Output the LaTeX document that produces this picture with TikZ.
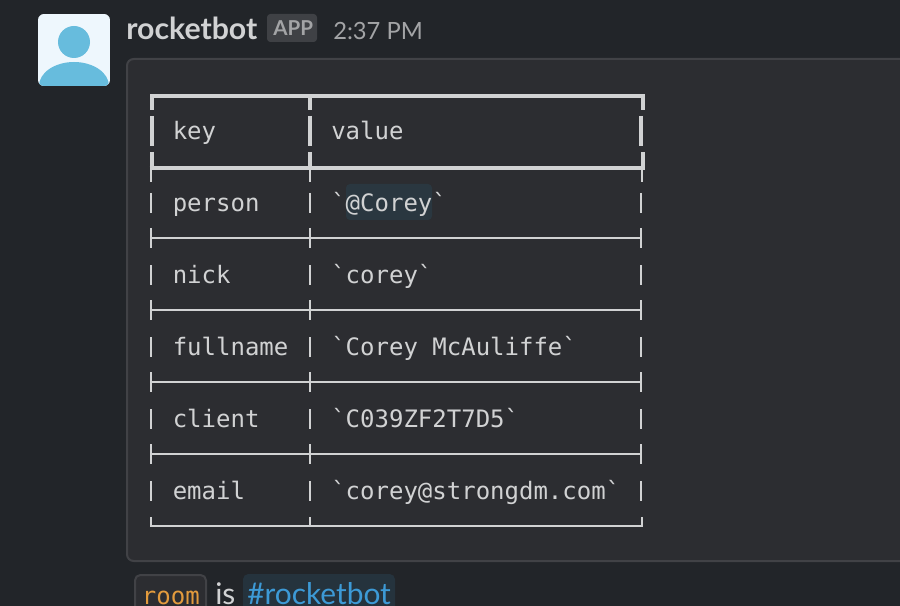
\documentclass[tikz,border=0pt]{standalone}
\usepackage{fontspec}
\setmainfont{Lato}
\newfontfamily\codefont{DejaVu Sans Mono}
\definecolor{bgc}{HTML}{222529}
\definecolor{cardc}{HTML}{2C2D31}
\definecolor{edgec}{HTML}{414246}
\definecolor{textc}{HTML}{D1D2D3}
\definecolor{dimc}{HTML}{A3A4A6}
\definecolor{badgec}{HTML}{3F4145}
\definecolor{avbg}{HTML}{EEF7FD}
\definecolor{avfg}{HTML}{67BCDD}
\definecolor{mentionc}{HTML}{2A3740}
\definecolor{linkbg}{HTML}{25333D}
\definecolor{linkc}{HTML}{3D9AD6}
\definecolor{orangec}{HTML}{E39B3D}
\tikzset{
  thick rule/.style={draw=textc,line width=3pt,line cap=butt},
  thin rule/.style={draw=textc,line width=1.6pt,line cap=butt},
  cell/.style={anchor=base west,inner sep=0pt,text=textc,font=\codefont\fontsize{18pt}{18pt}\selectfont},
  label/.style={anchor=base west,inner sep=0pt,font=\fontsize{22.4pt}{22.4pt}\selectfont}
}
\begin{document}
\begin{tikzpicture}[x=0.75pt,y=-0.75pt]
\useasboundingbox (0,0) rectangle (900,606);
\clip (0,0) rectangle (900,606);
\fill[bgc] (0,0) rectangle (900,606);
% avatar
\begin{scope}
  \path[clip,rounded corners=4.5pt] (38,14) rectangle (110,86);
  \fill[avbg] (38,14) rectangle (110,86);
  \fill[avfg] (74,42) circle[radius=16];
  \fill[avfg] (74,86) ellipse[x radius=35,y radius=24];
\end{scope}
% header
\node[anchor=base west,inner sep=0pt,text=textc,font=\bfseries\fontsize{22.7pt}{22.7pt}\selectfont] (name) at (126,39.5) {rocketbot};
\fill[badgec,rounded corners=2.5pt] (267,14) rectangle (317,42);
\node[anchor=base west,inner sep=0pt,text=dimc,font=\bfseries\fontsize{15.4pt}{15.4pt}\selectfont] (app) at (273,35.5) {APP};
\node[anchor=base west,inner sep=0pt,text=dimc,font=\fontsize{17.8pt}{17.8pt}\selectfont] (time) at (333,40) {2:37 PM};
% card
\draw[edgec,fill=cardc,line width=1.5pt,rounded corners=5pt] (127,59) rectangle (930,561);
% mention
\fill[mentionc,rounded corners=3pt] (346,184) rectangle (432,220);
% table header
\draw[thick rule] (151.5,110) -- (151.5,96) -- (642.5,96) -- (642.5,110);
\draw[thick rule] (310,96) -- (310,110);
\draw[thick rule] (151.5,116) -- (151.5,146);
\draw[thick rule] (310,116) -- (310,146);
\draw[thick rule] (641,116) -- (641,146);
\draw[thick rule] (151.5,152) -- (151.5,168);
\draw[thick rule] (310,152) -- (310,168);
\draw[thick rule] (642.5,152) -- (642.5,169);
\draw[thick rule] (149.5,168) -- (644.5,168);
% thin top stubs
\foreach \x in {151,310,642}
  \draw[thin rule] (\x,168) -- (\x,182);
% rows
\foreach \yh in {238,310,382,454}{
  \draw[thin rule] (150,\yh) -- (642,\yh);
  \foreach \x in {151,310,641}
    \draw[thin rule] (\x,\yh-10) -- (\x,\yh+10);
}
\foreach \yb in {193,265,337,409,481}{
  \foreach \x in {151,310,641}
    \draw[thin rule] (\x,\yb) -- (\x,\yb+20);
}
\draw[thin rule] (151,517) -- (151,526) -- (642,526) -- (642,517);
\draw[thin rule] (310,517) -- (310,526);
% cells
\node[cell] (k0) at (172.5,140) {key};
\node[cell] (v0) at (331,140) {value};
\node[cell] (k1) at (172.5,212) {person};
\node[cell] (v1) at (331,212) {`@Corey`};
\node[cell] (k2) at (172.5,283.3) {nick};
\node[cell] (v2) at (331,283.3) {`corey`};
\node[cell] (k3) at (172.5,355.3) {fullname};
\node[cell] (v3) at (331,355.3) {`Corey McAuliffe`};
\node[cell] (k4) at (172.5,427.3) {client};
\node[cell] (v4) at (331,427.3) {`C039ZF2T7D5`};
\node[cell] (k5) at (172.5,499.3) {email};
\node[cell] (v5) at (331,499.3) {`corey@strongdm.com`};
% last line
\draw[edgec,fill=cardc,line width=1.5pt,rounded corners=4pt] (135,575) rectangle (206,630);
\node[cell,text=orangec] (room) at (141.7,604) {room};
\node[label,text=textc] (is) at (215,604) {is};
\fill[linkbg,rounded corners=4pt] (243,574) rectangle (395,630);
\node[label,text=linkc] (chan) at (247,604) {\#rocketbot};
\end{tikzpicture}
\end{document}
